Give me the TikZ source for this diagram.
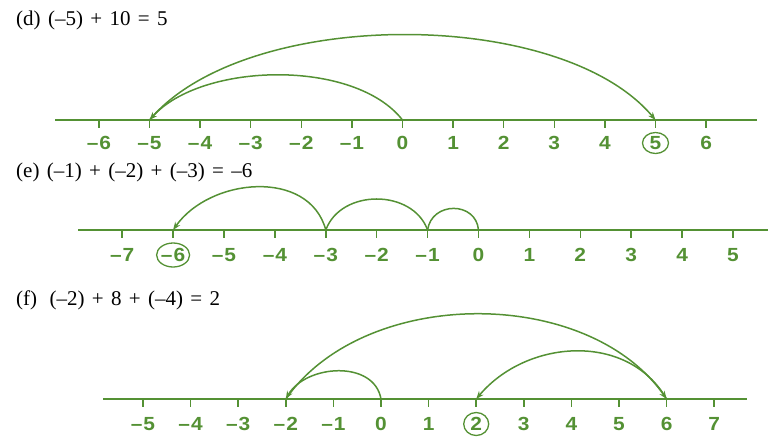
\documentclass[tikz,border=0pt]{standalone}
\usepackage{fontspec}
\setmainfont{Liberation Serif}[WordSpace=1.4]
\newfontfamily\lblfont{Liberation Sans}[FakeStretch=1.1]
\usetikzlibrary{arrows.meta}
\definecolor{grn}{RGB}{84,145,52}
\newcommand{\numlbl}[1]{\ifnum#1<0 –\kern1pt\number-#1\relax\else#1\fi}
\tikzset{
  axisline/.style={draw=grn, line width=1.9pt},
  tickmark/.style={draw=grn, line width=1.5pt},
  jump/.style={draw=grn, line width=1.5pt},
  arrowjump/.style={jump, -{Stealth[length=8pt,width=6pt]}},
  num/.style={text=grn, font=\lblfont\bfseries\fontsize{19}{19}\selectfont, inner sep=0pt, anchor=center},
  titletext/.style={font=\fontsize{21}{21}\selectfont, anchor=west, inner sep=0pt},
  ring/.style={draw=grn, line width=1.3pt}
}
\begin{document}
\begin{tikzpicture}[x=1pt,y=1pt]
\useasboundingbox (0,0) rectangle (768,-442);
% ---------- (d) ----------
\node[titletext] (td) at (16,-20) {(d) (–5) + 10 = 5};
\coordinate (dL) at (55,-120);
\coordinate (dR) at (757,-120);
\draw[axisline] (dL) -- (dR);
\foreach \k in {-6,...,6} {
  \coordinate (d\k) at ({402.5+50.6*\k},-120);
  \draw[tickmark] (d\k) -- ++(0,-8);
  \node[num] (dl\k) at ({402.5+50.6*\k},-143) {\numlbl{\k}};
}
\draw[arrowjump] (d0) to[out=128,in=48,distance=78pt] (d-5);
\draw[arrowjump] (d-5) to[out=50,in=130,distance=148pt] (d5);
\draw[ring] (dl5) ellipse [x radius=13pt, y radius=10.5pt];
% ---------- (e) ----------
\node[titletext] (te) at (16,-172) {(e) (–1) + (–2) + (–3) = –6};
\coordinate (eL) at (78,-230);
\coordinate (eR) at (768,-230);
\draw[axisline] (eL) -- (eR);
\foreach \k in {-7,...,5} {
  \coordinate (e\k) at ({478.5+50.9*\k},-230);
  \draw[tickmark] (e\k) -- ++(0,-8);
  \node[num] (el\k) at ({478.5+50.9*\k},-255) {\numlbl{\k}};
}
\draw[jump] (e0) to[out=95,in=82,distance=29pt] (e-1);
\draw[jump] (e-1) to[out=110,in=70,distance=44pt] (e-3);
\draw[arrowjump] (e-3) to[out=105,in=55,distance=64pt] (e-6);
\draw[ring] (el-6) ellipse [x radius=16.5pt, y radius=12pt];
% ---------- (f) ----------
\node[titletext] (tf) at (16,-300) {(f)\hspace{5pt} (–2) + 8 + (–4) = 2};
\coordinate (fL) at (103,-399);
\coordinate (fR) at (747,-399);
\draw[axisline] (fL) -- (fR);
\foreach \k in {-5,...,7} {
  \coordinate (f\k) at ({381+47.6*\k},-399);
  \draw[tickmark] (f\k) -- ++(0,-8);
  \node[num] (fl\k) at ({381+47.6*\k},-424) {\numlbl{\k}};
}
\draw[arrowjump] (f0) to[out=100,in=60,distance=40pt] (f-2);
\draw[arrowjump] (f-2) to[out=55,in=125,distance=138pt] (f6);
\draw[arrowjump] (f6) to[out=120,in=50,distance=78pt] (f2);
\draw[ring] (fl2) ellipse [x radius=12.5pt, y radius=11.5pt];
\end{tikzpicture}
\end{document}
